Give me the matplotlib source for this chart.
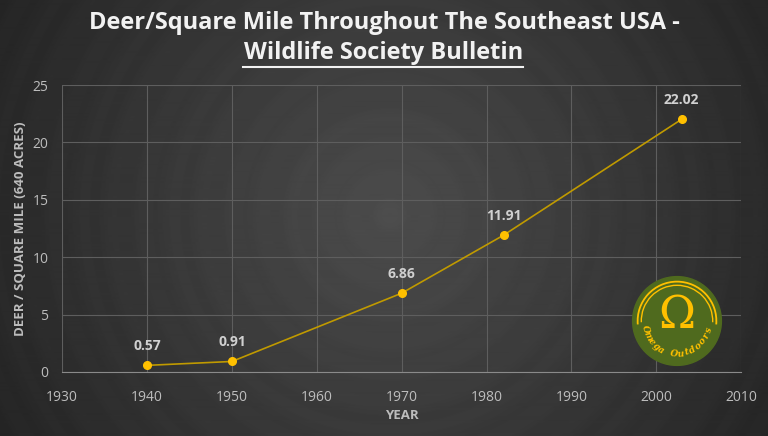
import numpy as np
import matplotlib.pyplot as plt
from matplotlib.patches import Circle, Arc

years = [1940, 1950, 1970, 1982, 2003]
deer = [0.57, 0.91, 6.86, 11.91, 22.02]
labels = ["0.57", "0.91", "6.86", "11.91", "22.02"]
x_ticks = list(range(1930, 2011, 10))
y_ticks = [0, 5, 10, 15, 20, 25]

plt.rcParams['font.family'] = ['Open Sans', 'DejaVu Sans']

fig = plt.figure(figsize=(7.68, 4.36), dpi=100)

# radial background
bg = fig.add_axes([0, 0, 1, 1], zorder=-10)
yy, xx = np.mgrid[0:436, 0:768]
r = np.sqrt((xx - 390) ** 2 + (yy - 215) ** 2) / 430
shade = 0.30 - 0.15 * np.clip(r, 0, 1.3)
shade = shade + 0.004 * np.sin(r * 90)
bg.imshow(shade, cmap='gray', vmin=0, vmax=1, aspect='auto', interpolation='bilinear')
bg.axis('off')

ax = fig.add_axes([0.081, 0.147, 0.884, 0.658])
ax.patch.set_alpha(0)
ax.plot(years, deer, color='#c09a00', lw=1.2, marker='o', markersize=5.5,
        markerfacecolor='#ffc000', markeredgecolor='#ffc000', zorder=5)
for x, y, t in zip(years, deer, labels):
    ax.annotate(t, (x, y), xytext=(0, 9), textcoords='offset points', ha='center',
                va='bottom', color='#d0d0d0', fontsize=10, fontweight='bold')

ax.set_xlim(1930, 2010)
ax.set_ylim(0, 25)
ax.set_xticks(x_ticks)
ax.set_yticks(y_ticks)
ax.grid(True, color='#5e5e5e', lw=0.8)
ax.set_axisbelow(True)
for s in ['top', 'right', 'left']:
    ax.spines[s].set_visible(False)
ax.spines['bottom'].set_color('#8a8a8a')
ax.tick_params(length=0, colors='#bdbdbd', labelsize=10, pad=13)
ax.tick_params(axis='y', pad=10)
ax.set_xlabel("YEAR", color='#bdbdbd', fontsize=9.5, fontweight='bold', labelpad=3)
ax.set_ylabel("DEER / SQUARE MILE (640 ACRES)", color='#bdbdbd', fontsize=9.5,
              fontweight='bold', labelpad=4)

fig.text(0.5, 0.948, "Deer/Square Mile Throughout The Southeast USA -", ha='center',
         va='center', color='#f2f2f2', fontsize=17, fontweight='bold')
fig.text(0.5, 0.878, "Wildlife Society Bulletin", ha='center', va='center',
         color='#f2f2f2', fontsize=17, fontweight='bold')
fig.add_artist(plt.Line2D([0.316, 0.681], [0.846, 0.846], color='#f2f2f2', lw=1.5))

# logo
lx, ly = 677 / 768, (436 - 321) / 436
la = fig.add_axes([lx - 0.06, ly - 0.105, 0.12, 0.21], zorder=10)
la.set_xlim(-1, 1)
la.set_ylim(-1, 1)
la.set_aspect('equal')
la.axis('off')
la.add_patch(Circle((0, 0), 0.97, color='#4f6a1e'))
la.add_patch(Arc((0, 0), 1.72, 1.72, theta1=-5, theta2=185, ec='#ffc000', lw=1.3))
la.add_patch(Arc((0, 0), 1.56, 1.56, theta1=-2, theta2=182, ec='#ffc000', lw=1.0))
la.text(0, 0.12, "Ω", ha='center', va='center', color='#ffc000', fontsize=32,
        family='DejaVu Serif')
word = "Omega Outdoors"
angs = np.linspace(195, 345, len(word))
for ch, a in zip(word, angs):
    rad = np.deg2rad(a)
    la.text(0.72 * np.cos(rad), 0.72 * np.sin(rad), ch, ha='center', va='center',
            rotation=a + 90, color='#ffc000', fontsize=6.5, fontweight='bold',
            family='DejaVu Serif', style='italic')

fig.savefig("out.png", dpi=100)
